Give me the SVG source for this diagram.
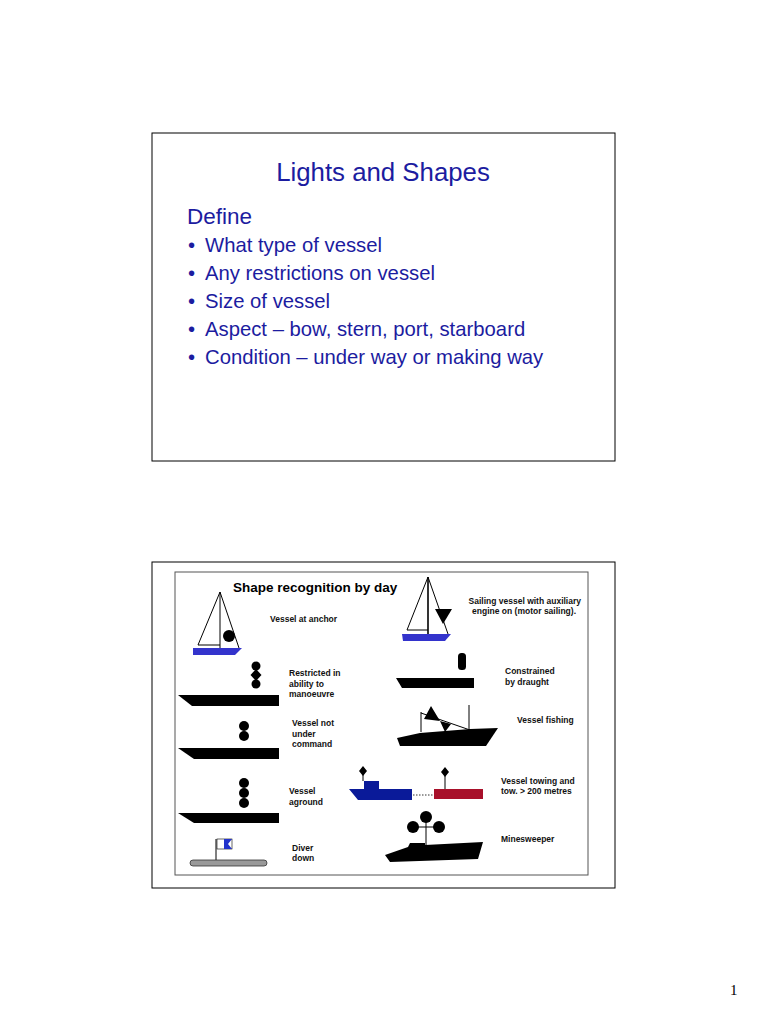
<svg xmlns="http://www.w3.org/2000/svg" width="768" height="1024" viewBox="0 0 768 1024">
<style>
.t{font-family:"Liberation Sans",Arial,sans-serif;fill:#1c1ca0}
.s{font-family:"Liberation Sans",Arial,sans-serif;font-weight:bold;font-size:8.5px;fill:#111}
.frame{fill:#fff;stroke:#000;stroke-width:1}
.k{fill:#000}
.ln{stroke:#000;stroke-width:1;fill:none}
</style>
<rect width="768" height="1024" fill="#fff"/>
<g id="slide1">
<rect class="frame" x="152" y="133" width="463" height="328"/>
<text class="t" x="383" y="181" font-size="25.8" text-anchor="middle">Lights and Shapes</text>
<text class="t" x="187" y="224" font-size="22.5">Define</text>
<g font-size="20.3">
<text class="t" x="188" y="252">•</text><text class="t" x="205" y="252">What type of vessel</text>
<text class="t" x="188" y="280">•</text><text class="t" x="205" y="280">Any restrictions on vessel</text>
<text class="t" x="188" y="308">•</text><text class="t" x="205" y="308">Size of vessel</text>
<text class="t" x="188" y="336">•</text><text class="t" x="205" y="336">Aspect – bow, stern, port, starboard</text>
<text class="t" x="188" y="364">•</text><text class="t" x="205" y="364">Condition – under way or making way</text>
</g>
</g>
<g id="slide2">
<rect class="frame" x="152" y="562" width="463" height="326"/>
<rect x="175" y="572" width="413" height="303" fill="#fff" stroke="#555" stroke-width="1"/>
<text x="233" y="592" font-family="Liberation Sans,Arial,sans-serif" font-weight="bold" font-size="13.5" fill="#000">Shape recognition by day</text>
<g id="anchor">
<path class="ln" d="M220,592 L198,645 L220,645 M220,592 L220,648 M220,592 L239,648"/>
<circle class="k" cx="229" cy="636" r="6"/>
<path d="M193,648 L242,648 L235,655 L193,655Z" fill="#3333cc"/>
<text class="s" x="270" y="622">Vessel at anchor</text>
</g>
<g id="motorsail">
<path class="ln" d="M428,577 L407,630 L428,630 M428,577 L448,634"/>
<path d="M428,577 L428,634" stroke="#000" stroke-width="1.6"/>
<path class="k" d="M435,609 L452,609 L443,624Z"/>
<path d="M402,634 L451,634 L445,641 L403,641Z" fill="#3333cc"/>
<text class="s" x="581" y="604" text-anchor="end">Sailing vessel with auxiliary</text>
<text class="s" x="576" y="614" text-anchor="end">engine on (motor sailing).</text>
</g>
<g id="ram">
<circle class="k" cx="256" cy="666" r="4.5"/><circle class="k" cx="256" cy="684" r="4.5"/>
<path class="k" d="M256,669 L261.5,675 L256,681 L250.5,675Z"/>
<path class="k" d="M178,695 L279,695 L279,706 L192,706Z"/>
<text class="s" x="289" y="676">Restricted in</text>
<text class="s" x="289" y="687">ability to</text>
<text class="s" x="289" y="697">manoeuvre</text>
</g>
<g id="draught">
<rect class="k" x="458" y="653" width="8" height="17" rx="3.5"/>
<path class="k" d="M396,678 L474,678 L474,688 L402,688Z"/>
<text class="s" x="505" y="674">Constrained</text>
<text class="s" x="505" y="685">by draught</text>
</g>
<g id="fishing">
<path class="k" d="M397,738 L420,733 L470,729 L498,728 L490,740 L486,746 L400,746Z"/>
<path class="ln" d="M421,712 L421,732 M469,705 L469,730 M421,713 L470,730"/>
<path class="k" d="M431,706 L424,719 L440,721Z M440,721 L451,724 L445,732Z"/>
<text class="s" x="517" y="723">Vessel fishing</text>
</g>
<g id="nuc">
<circle class="k" cx="244" cy="726" r="5"/><circle class="k" cx="244" cy="736" r="5"/>
<path class="k" d="M178,748 L279,748 L279,759 L194,759Z"/>
<text class="s" x="292" y="726">Vessel not</text>
<text class="s" x="292" y="737">under</text>
<text class="s" x="292" y="747">command</text>
</g>
<g id="aground">
<circle class="k" cx="244" cy="783" r="5"/><circle class="k" cx="244" cy="793" r="5"/><circle class="k" cx="244" cy="803" r="5"/>
<path class="k" d="M178,813 L279,813 L279,823 L194,823Z"/>
<text class="s" x="289" y="794">Vessel</text>
<text class="s" x="289" y="805">aground</text>
</g>
<g id="towing">
<path class="ln" d="M363,771 L363,781 M445,772 L445,789"/>
<path class="k" d="M363,766 L367,771 L363,776 L359,771Z M445,767 L449,772 L445,777 L441,772Z"/>
<path d="M349,789 L412,789 L412,800 L358,800Z M364,781 L379,781 L379,789 L364,789Z" fill="#0a1a99"/>
<path d="M413,795 L434,795" stroke="#333" stroke-width="1" stroke-dasharray="1.5,1.5"/>
<rect x="434" y="789" width="49" height="10" fill="#a8102a"/>
<text class="s" x="501" y="784">Vessel towing and</text>
<text class="s" x="501" y="794">tow. &gt; 200 metres</text>
</g>
<g id="minesweeper">
<path class="ln" d="M426,820 L426,845 M413,827 L439,827"/>
<circle class="k" cx="426" cy="817" r="6"/><circle class="k" cx="413" cy="827" r="6"/><circle class="k" cx="439" cy="827" r="6"/>
<path class="k" d="M385,855 L408,847 L410,843 L425,843 L425,845 L483,842 L478,859 L390,862Z"/>
<text class="s" x="501" y="842">Minesweeper</text>
</g>
<g id="diver">
<path class="ln" d="M216,839 L216,860"/>
<rect x="217" y="839" width="15" height="10" fill="#fff" stroke="#000" stroke-width="0.6"/>
<path d="M224,839 L232,839 L228,844 L232,849 L224,849Z" fill="#2233cc"/>
<rect x="190" y="860" width="77" height="6" rx="3" fill="#999" stroke="#333" stroke-width="0.8"/>
<text class="s" x="292" y="851">Diver</text>
<text class="s" x="292" y="861">down</text>
</g>
</g>
<text x="730" y="995" font-family="Liberation Serif,serif" font-size="15" fill="#000">1</text>
</svg>
